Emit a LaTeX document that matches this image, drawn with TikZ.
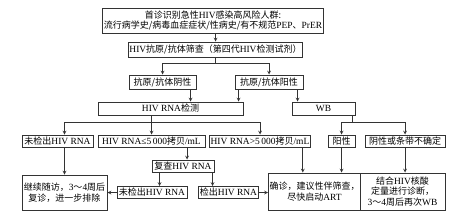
\documentclass[tikz,border=0pt]{standalone}
\usepackage{fontspec}
\setmainfont{Liberation Serif}[Scale=1.05]
\newfontfamily\cjk{Noto Sans CJK SC}
\newcommand{\zh}[1]{{\cjk #1}}
\usetikzlibrary{arrows}
\tikzstyle{box} = [rectangle, draw=black!80, line width=1pt, text centered, align=center, inner sep=1pt, font=\fontsize{9}{10.5}\selectfont]
\tikzstyle{arrow} = [line width=0.7pt, draw=black!80, ->, >=stealth]

\begin{document}
\begin{tikzpicture}[x=1pt, y=-1pt]
      \useasboundingbox (0,0) rectangle (474,214);

      \node (screen) [box, minimum width=220, minimum height=25] at (213,20.5) {\zh{首诊识别急性}HIV\zh{感染高风险人群:}\\\zh{流行病学史/病毒血症症状/性病史/有不规范}PEP\zh{、}PrER};
      \node (test4) [box, minimum width=173, minimum height=15] at (215.5,49.5) {HIV\zh{抗原/抗体筛查（第四代}HIV\zh{检测试剂）}};
      \node (neg) [box, minimum width=67, minimum height=14] at (162.5,82) {\zh{抗原/抗体阴性}};
      \node (pos) [box, minimum width=68, minimum height=14] at (269,82) {\zh{抗原/抗体阳性}};
      \node (rna) [box, minimum width=145, minimum height=13] at (170.5,108.5) {HIV RNA\zh{检测}};
      \node (wb) [box, minimum width=63, minimum height=13] at (323.5,108.5) {WB};
      \node (undet1) [box, minimum width=71, minimum height=12] at (57.5,141) {\zh{未检出}HIV RNA};
      \node (low) [box, minimum width=107, minimum height=12] at (151.5,141) {HIV RNA≤5\,000\zh{拷贝}/mL};
      \node (high) [box, minimum width=100, minimum height=12] at (260,141) {HIV RNA>5\,000\zh{拷贝}/mL};
      \node (wbpos) [box, minimum width=27, minimum height=12] at (341.5,141) {\zh{阳性}};
      \node (wbind) [box, minimum width=80, minimum height=12] at (405,141) {\zh{阴性或条带不确定}};
      \node (recheck) [box, minimum width=62, minimum height=12] at (183,166) {\zh{复查}HIV RNA};
      \node (undet2) [box, minimum width=70, minimum height=12] at (152,192.5) {\zh{未检出}HIV RNA};
      \node (det) [box, minimum width=59, minimum height=12] at (228.5,192.5) {\zh{检出}HIV RNA};
      \node (follow) [box, minimum width=85, minimum height=35] at (64.5,192.5) {\zh{继续随访，}3\zh{～}4\zh{周后}\\\zh{复诊，进一步排除}};
      \node (confirm) [box, minimum width=85, minimum height=37] at (314.5,191.5) {\zh{确诊，建议性伴筛查，}\\\zh{尽快启动}ART};
      \node (combine) [box, minimum width=85, minimum height=37] at (402.5,191.5) {\zh{结合}HIV\zh{核酸}\\\zh{定量进行诊断，}\\3\zh{～}4\zh{周后再次}WB};

      % Arrows
      \draw [arrow] (test4.north |- screen.south) -- (test4.north);
      \draw [arrow] (test4.south) -- ++(0,6) -| (neg.north);
      \draw [arrow] (test4.south) -- ++(0,6) -| (pos.north);
      \draw [arrow] ([xshift=-6]neg.south east) -- ([xshift=-6]neg.south east |- rna.north);
      \draw [arrow] ([xshift=4]pos.south west) -- ([xshift=4]pos.south west |- rna.north);
      \draw [arrow] ([xshift=-6]pos.south east) -- ([xshift=-6]pos.south east |- wb.north);
      \draw [arrow] (rna.south -| low.north) -- (low.north);
      \draw [arrow] (rna.south -| low.north) -- ++(0,7) -| (follow.north |- undet1.north);
      \draw [arrow] (rna.south -| low.north) -- ++(0,7) -| (high.north);
      \draw [arrow] ([xshift=-3]wb.south east) -- ++(0,7) -| (wbpos.north);
      \draw [arrow] ([xshift=-3]wb.south east) -- ++(0,7) -| (wbind.north);
      \draw [arrow] (undet1.south -| follow.north) -- (follow.north);
      \draw [arrow] ([xshift=4]recheck.north |- low.south) -- ([xshift=4]recheck.north);
      \draw [arrow] ([xshift=8]recheck.south west) -- ([xshift=8]recheck.south west |- undet2.north);
      \draw [arrow] ([xshift=-2]recheck.south east) -- ([xshift=-2]recheck.south east |- det.north);
      \draw [arrow] (undet2.west) -- (undet2.west -| follow.east);
      \draw [arrow] (det.east) -- (det.east -| confirm.west);
      \draw [arrow] ([xshift=-8]high.south east) -- ([xshift=-8]high.south east |- confirm.north);
      \draw [arrow] (wbpos.south) -- (wbpos.south |- confirm.north);
      \draw [arrow] (wbind.south) -- (wbind.south |- combine.north);

\end{tikzpicture}
\end{document}
